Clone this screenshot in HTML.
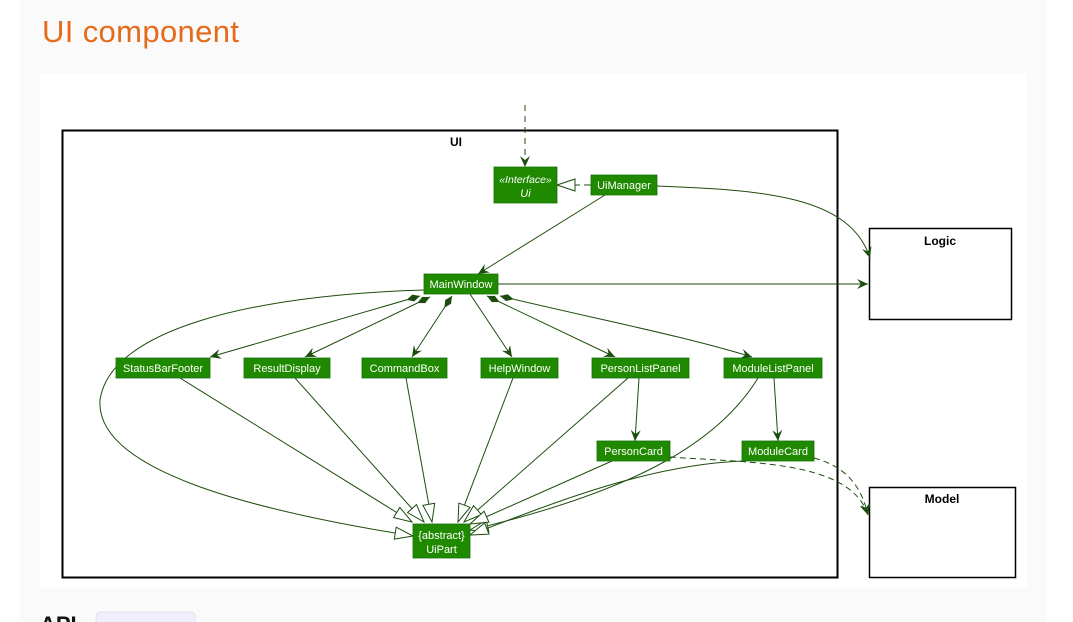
<!DOCTYPE html>
<html><head><meta charset="utf-8">
<style>
html,body{margin:0;padding:0;background:#fff;width:1073px;height:622px;overflow:hidden;font-family:"Liberation Sans",sans-serif}
</style></head><body>
<svg width="1073" height="622" viewBox="0 0 1073 622" xmlns="http://www.w3.org/2000/svg" font-family="Liberation Sans, sans-serif">
<defs>
<marker id="ar" viewBox="0 0 12 10" refX="11" refY="5" markerWidth="12" markerHeight="10" markerUnits="userSpaceOnUse" orient="auto">
<path d="M0,0 L11,5 L0,10 L4,5 Z" fill="#1d4d0e"/>
</marker>
<marker id="tri" viewBox="0 0 20 14" refX="19" refY="7" markerWidth="20" markerHeight="14" markerUnits="userSpaceOnUse" orient="auto">
<path d="M1,1 L19,7 L1,13 Z" fill="#fff" stroke="#1d4d0e" stroke-width="1"/>
</marker>
<marker id="dia" viewBox="0 0 16 8" refX="1" refY="4" markerWidth="16" markerHeight="8" markerUnits="userSpaceOnUse" orient="auto">
<path d="M1,4 L8,0.5 L15,4 L8,7.5 Z" fill="#1d4d0e"/>
</marker>
</defs>
<rect x="20" y="0" width="1027" height="622" fill="#fafafa"/>
<rect x="40" y="73" width="987" height="515" fill="#fff"/>
<text x="42" y="42" font-size="31" fill="#e56a1a" font-family="Liberation Sans, DejaVu Sans, sans-serif" textLength="197">UI component</text>
<text x="40" y="632" font-size="22" font-weight="bold" fill="#111">API</text>
<rect x="96" y="612" width="99" height="20" rx="4" fill="#eeeefc" stroke="#e0e0ec"/>

<!-- frames -->
<rect x="62.5" y="130.5" width="775" height="447" fill="none" stroke="#000" stroke-width="2"/>
<text x="450" y="146" font-size="12" font-weight="bold">UI</text>
<rect x="869.5" y="228.5" width="142" height="91" fill="#fff" stroke="#000" stroke-width="1.5"/>
<text x="940" y="245" font-size="12" font-weight="bold" text-anchor="middle">Logic</text>
<rect x="869.5" y="487.5" width="146" height="90" fill="#fff" stroke="#000" stroke-width="1.5"/>
<text x="942" y="503" font-size="12" font-weight="bold" text-anchor="middle">Model</text>

<g fill="none" stroke="#1d4d0e" stroke-width="1">
<!-- to Ui dashed -->
<path d="M525,105 L525,167" stroke-dasharray="6,5" marker-end="url(#ar)"/>
<path d="M591,185 L557,185" stroke-dasharray="7,4" marker-end="url(#tri)"/>
<path d="M605,195 L478,274" marker-end="url(#ar)"/>
<path d="M657,186 C760,190 850,195 870,258" marker-end="url(#ar)"/>
<path d="M498,284 L868,284" marker-end="url(#ar)"/>
<!-- compositions -->
<path d="M420,296 L210,357" marker-start="url(#dia)" marker-end="url(#ar)"/>
<path d="M430,297 L305,357" marker-start="url(#dia)" marker-end="url(#ar)"/>
<path d="M452,296 L412,357" marker-start="url(#dia)" marker-end="url(#ar)"/>
<path d="M470,294 L512,357" marker-end="url(#ar)"/>
<path d="M487,296 L615,357" marker-start="url(#dia)" marker-end="url(#ar)"/>
<path d="M500,296 C600,320 680,335 752,357" marker-start="url(#dia)" marker-end="url(#ar)"/>
<path d="M639,378 L635,441" marker-end="url(#ar)"/>
<path d="M774,378 L778,441" marker-end="url(#ar)"/>
<!-- inheritance -->
<path d="M424,290 C250,295 110,330 100,400 C95,470 250,510 413,536" marker-end="url(#tri)"/>
<path d="M180,378 L412,522" marker-end="url(#tri)"/>
<path d="M295,378 L424,522" marker-end="url(#tri)"/>
<path d="M406,378 L432,522" marker-end="url(#tri)"/>
<path d="M513,378 L458,522" marker-end="url(#tri)"/>
<path d="M628,378 L464,522" marker-end="url(#tri)"/>
<path d="M758,378 C720,440 640,490 470,530" marker-end="url(#tri)"/>
<path d="M612,461 L470,524" marker-end="url(#tri)"/>
<path d="M742,461 C650,465 560,500 470,535" marker-end="url(#tri)"/>
<!-- dashed to model -->
<path d="M670,457 C750,463 850,460 868,515" stroke-dasharray="6,4" marker-end="url(#ar)"/>
<path d="M814,458 C840,465 860,480 868,515" stroke-dasharray="6,4" marker-end="url(#ar)"/>
</g>

<g fill="#1f8a00" stroke="#16700a" stroke-width="0.8">
<rect x="494" y="167" width="63" height="36"/>
<rect x="591" y="175" width="66" height="20"/>
<rect x="424" y="274" width="74" height="20"/>
<rect x="116" y="358" width="94" height="20"/>
<rect x="244" y="358" width="86" height="20"/>
<rect x="362" y="358" width="85" height="20"/>
<rect x="481" y="358" width="77" height="20"/>
<rect x="592" y="358" width="97" height="20"/>
<rect x="724" y="358" width="98" height="20"/>
<rect x="597" y="441" width="73" height="20"/>
<rect x="742" y="441" width="72" height="20"/>
<rect x="413" y="524" width="57" height="34"/>
</g>
<g fill="#fff" font-size="11" text-anchor="middle">
<text x="525.5" y="183" font-style="italic" font-size="10.5">«Interface»</text>
<text x="525.5" y="197" font-style="italic">Ui</text>
<text x="624" y="189">UiManager</text>
<text x="461" y="288">MainWindow</text>
<text x="163" y="372">StatusBarFooter</text>
<text x="287" y="372">ResultDisplay</text>
<text x="404.5" y="372">CommandBox</text>
<text x="519.5" y="372">HelpWindow</text>
<text x="640.5" y="372">PersonListPanel</text>
<text x="773" y="372">ModuleListPanel</text>
<text x="633.5" y="455">PersonCard</text>
<text x="778" y="455">ModuleCard</text>
<text x="441.5" y="539">{abstract}</text>
<text x="441.5" y="553">UiPart</text>
</g>
</svg>
</body></html>
